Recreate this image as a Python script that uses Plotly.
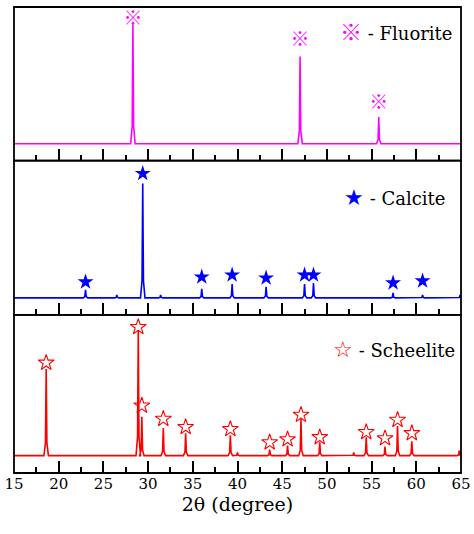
import plotly.graph_objects as go

# peak positions (deg) and heights (panel units, 0-155, baseline at 0)
flu_pos = [28.3, 47.0, 55.8]
flu_h = [120, 88, 27]
flu_mark = [125, 103, 40]

cal_pos = [23.0, 26.5, 29.4, 31.4, 36.0, 39.4, 43.2, 47.5, 48.5, 57.4, 60.7, 64.9]
cal_h = [8, 3, 115, 3, 9, 14, 11, 14, 15, 5, 3, 3]
cal_mark_pos = [23.0, 29.4, 36.0, 39.4, 43.2, 47.5, 48.5, 57.4, 60.7]
cal_mark = [16, 125, 21, 23, 20, 23, 23, 15, 17]

sch_pos = [18.6, 28.9, 29.3, 31.7, 34.2, 39.2, 40.0, 43.6, 45.6, 47.1, 49.2, 53.0, 54.4, 56.5, 57.9, 59.5, 64.8]
sch_h = [85, 123, 38, 27, 22, 20, 3, 6, 10, 36, 13, 3, 18, 9, 29, 14, 5]
sch_mark_pos = [18.6, 28.9, 29.3, 31.7, 34.2, 39.2, 43.6, 45.6, 47.1, 49.2, 54.4, 56.5, 57.9, 59.5]
sch_mark = [91, 126, 49, 36, 28, 26, 13, 16, 40, 18, 23, 17, 35, 22]

base = 17  # baseline offset inside each panel
SERIF = "DejaVu Serif"

def profile(pos, h):
    xs, ys = [15.0], [base]
    for p, v in sorted(zip(pos, h)):
        xs += [p - 0.25, p - 0.08, p, p + 0.08, p + 0.25]
        ys += [base, base + v * 0.15, base + v, base + v * 0.15, base]
    xs.append(65.0); ys.append(base)
    return xs, ys

fig = go.Figure()
panels = [("x3", "y", flu_pos, flu_h, "#ff00ff"), ("x2", "y2", cal_pos, cal_h, "#0000ff"), ("x", "y3", sch_pos, sch_h, "#ff0000")]
for xa, ya, p, h, c in panels:
    xs, ys = profile(p, h)
    fig.add_trace(go.Scatter(x=xs, y=ys, mode="lines", line=dict(color=c, width=1.6), xaxis=xa, yaxis=ya, showlegend=False))

fig.add_trace(go.Scatter(x=flu_pos, y=[base + m for m in flu_mark], mode="text", text=["※"] * 3,
                         textfont=dict(color="#ff00ff", size=19, family="Noto Sans CJK SC"), xaxis="x3", yaxis="y", showlegend=False))
fig.add_trace(go.Scatter(x=cal_mark_pos, y=[base + m for m in cal_mark], mode="markers",
                         marker=dict(symbol="star", size=12, color="#0000ff"), xaxis="x2", yaxis="y2", showlegend=False))
fig.add_trace(go.Scatter(x=sch_mark_pos, y=[base + m for m in sch_mark], mode="markers",
                         marker=dict(symbol="star-open", size=12, color="#ff0000", line=dict(width=1.1)), yaxis="y3", showlegend=False))

tickvals = list(range(15, 66, 5))
def xax(anchor, labels, overlay=None):
    d = dict(range=[15, 65], tickvals=tickvals, ticks="inside", ticklen=12, tickwidth=1.5, tickcolor="black",
             minor=dict(dtick=2.5, ticklen=6, ticks="inside", tickwidth=1.5, tickcolor="black"),
             showticklabels=labels, showline=False, showgrid=False, zeroline=False, anchor=anchor)
    if overlay:
        d["overlaying"] = overlay
    return d

xa1 = xax("y3", True)
xa1.update(tickfont=dict(size=15, family=SERIF), title=dict(text="2θ (degree)", font=dict(size=19, family=SERIF), standoff=2))
yax = lambda dom: dict(domain=dom, range=[0, 155], showticklabels=False, ticks="", showgrid=False, zeroline=False, showline=False)
doms = [[0.6705, 1.0], [0.3395, 0.6705], [0.0, 0.3395]]
fig.update_layout(
    width=474, height=534, margin=dict(l=14, r=13, t=7, b=61, autoexpand=False),
    paper_bgcolor="white", plot_bgcolor="white",
    font=dict(family=SERIF, color="black"),
    xaxis=xa1, xaxis2=xax("y2", False, "x"), xaxis3=xax("y", False, "x"),
    yaxis=yax(doms[0]), yaxis2=yax(doms[1]), yaxis3=yax(doms[2]),
)
for d in doms:
    fig.add_shape(type="rect", xref="paper", yref="paper", x0=0, x1=1, y0=d[0], y1=d[1],
                  line=dict(color="black", width=1.8))

fig.add_annotation(x=0.985, y=0.951, xref="paper", yref="paper", xanchor="right", yanchor="middle", showarrow=False,
                   text="<span style='color:#ff00ff;font-family:Noto Sans CJK SC;font-size:22px'>※</span> - Fluorite", font=dict(size=18, family=SERIF))
fig.add_annotation(x=0.97, y=0.592, xref="paper", yref="paper", xanchor="right", yanchor="middle", showarrow=False,
                   text="<span style='color:#0000ff;font-size:22px'>★</span> - Calcite", font=dict(size=18, family=SERIF))
fig.add_annotation(x=0.99, y=0.264, xref="paper", yref="paper", xanchor="right", yanchor="middle", showarrow=False,
                   text="<span style='color:#ff0000;font-size:22px'>☆</span> - Scheelite", font=dict(size=18, family=SERIF))
fig.write_html("out.html", config={"displayModeBar": False}, post_script="document.body.style.margin='0';")
